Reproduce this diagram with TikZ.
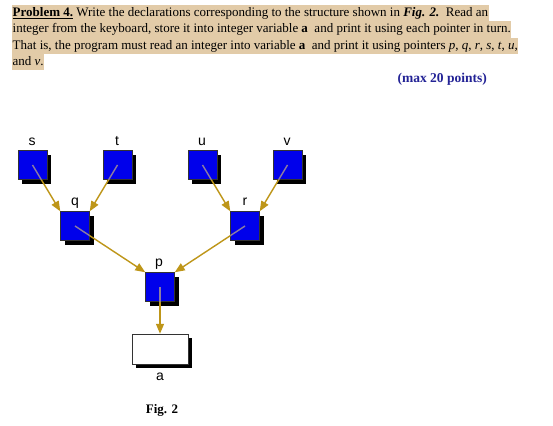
\documentclass[tikz,border=0pt]{standalone}
\usepackage{fontspec}
\setmainfont{Liberation Serif}
\newfontfamily\labfont{Liberation Sans}
\usetikzlibrary{arrows.meta,shadows}
\definecolor{ptrblue}{RGB}{0,0,235}
\definecolor{arrowgold}{RGB}{190,150,25}
\definecolor{hlcolor}{RGB}{226,203,168}
\definecolor{maxblue}{RGB}{35,35,150}
\definecolor{innergray}{RGB}{140,125,160}
\begin{document}
\begin{tikzpicture}[x=1pt,y=-1pt,
  ptr/.style={draw=black!80, line width=0.5pt, fill=ptrblue, minimum width=29pt, minimum height=29pt, inner sep=0pt,
    drop shadow={shadow xshift=4pt,shadow yshift=-4pt,opacity=1,fill=black}},
  varbox/.style={draw=black!80, line width=0.5pt, fill=white, minimum width=56pt, minimum height=30pt, inner sep=0pt,
    drop shadow={shadow xshift=4pt,shadow yshift=-4pt,opacity=1,fill=black}},
  lbl/.style={font=\labfont\fontsize{14}{16}\selectfont, inner sep=0pt},
  conn/.style={draw=arrowgold, line width=1.4pt, -{Triangle[length=10pt,width=8pt]}},
  innerseg/.style={draw=innergray, line width=1.4pt},
  hl/.style={anchor=base west, inner xsep=0.5pt, inner ysep=0pt, fill=hlcolor, text height=11.5pt, text depth=4.8pt,
    font=\fontsize{13}{15}\selectfont}
]
\fill[white] (0,0) rectangle (553,425);
\useasboundingbox (0,0) rectangle (553,425);

% problem text
\node[hl] (l1) at (12,16.5) {\textbf{\underline{Problem 4.}} Write the declarations corresponding to the structure shown in \textbf{\textit{Fig. 2.}}\ \ Read an};
\node[hl] (l2) at (12,33) {integer from the keyboard, store it into integer variable \textbf{a}\ \ and print it using each pointer in turn.};
\node[hl] (l3) at (12,49.3) {That is, the program must read an integer into variable \textbf{a}\ \ and print it using pointers \textit{p}, \textit{q}, \textit{r}, \textit{s}, \textit{t}, \textit{u},};
\node[hl] (l4) at (12,65.6) {and \textit{v}.};
\node[anchor=base east, inner sep=0pt, text=maxblue, font=\bfseries\fontsize{13.5}{15}\selectfont] (pts) at (487,82.5) {(max 20 points)};

% boxes
\node[ptr] (s) at (32.5,165) {};
\node[ptr] (t) at (117.5,165) {};
\node[ptr] (u) at (202.5,165) {};
\node[ptr] (v) at (287.5,165) {};
\node[ptr] (q) at (75,226) {};
\node[ptr] (r) at (245,226) {};
\node[ptr] (p) at (160,287) {};
\node[varbox] (a) at (160,349) {};

% labels
\node[lbl] (ls) at (32,142) {s};
\node[lbl] (lt) at (117,141) {t};
\node[lbl] (lu) at (202,142) {u};
\node[lbl] (lv) at (287,142) {v};
\node[lbl] (lq) at (75,203) {q};
\node[lbl] (lr) at (245,202) {r};
\node[lbl] (lp) at (159,264) {p};
\node[lbl] (la) at (160,377) {a};

% connectors
\draw[conn] (s) -- (q.north west) coordinate[pos=0] (s0);
\draw[innerseg] (s.center) -- (s0);
\draw[conn] (t) -- (q.north east) coordinate[pos=0] (t0);
\draw[innerseg] (t.center) -- (t0);
\draw[conn] (u) -- (r.north west) coordinate[pos=0] (u0);
\draw[innerseg] (u.center) -- (u0);
\draw[conn] (v) -- (r.north east) coordinate[pos=0] (v0);
\draw[innerseg] (v.center) -- (v0);
\draw[conn] (q) -- (p.north west) coordinate[pos=0] (q0);
\draw[innerseg] (q.center) -- (q0);
\draw[conn] (r) -- (p.north east) coordinate[pos=0] (r0);
\draw[innerseg] (r.center) -- (r0);
\draw[conn] (p) -- (a.north) coordinate[pos=0] (p0);
\draw[innerseg] (p.center) -- (p0);

\node[inner sep=0pt, font=\bfseries\fontsize{13}{15}\selectfont] (fig) at (162,410) {Fig. 2};
\end{tikzpicture}
\end{document}
